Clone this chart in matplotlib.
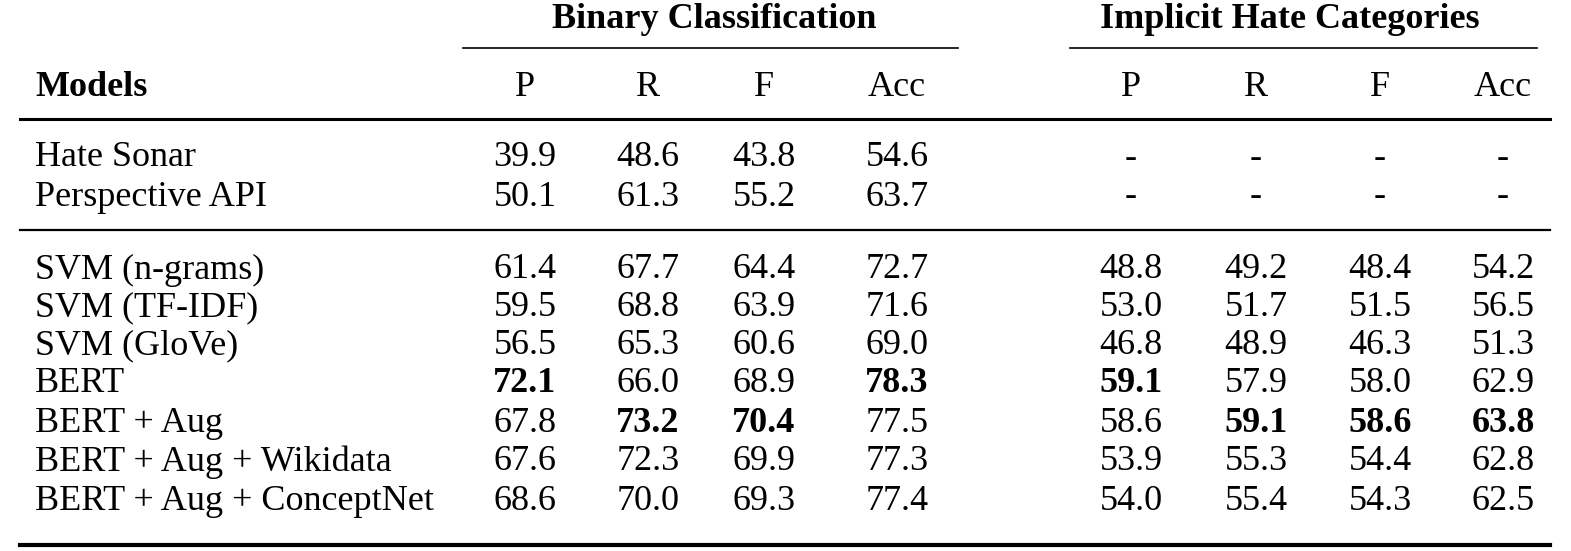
import matplotlib
matplotlib.use("Agg")
import matplotlib.pyplot as plt

models = ["Hate Sonar", "Perspective API", "SVM (n-grams)", "SVM (TF-IDF)", "SVM (GloVe)",
          "BERT", "BERT + Aug", "BERT + Aug + Wikidata", "BERT + Aug + ConceptNet"]
metrics = ["P", "R", "F", "Acc"]
binary = [["39.9", "48.6", "43.8", "54.6"], ["50.1", "61.3", "55.2", "63.7"],
          ["61.4", "67.7", "64.4", "72.7"], ["59.5", "68.8", "63.9", "71.6"],
          ["56.5", "65.3", "60.6", "69.0"], ["72.1", "66.0", "68.9", "78.3"],
          ["67.8", "73.2", "70.4", "77.5"], ["67.6", "72.3", "69.9", "77.3"],
          ["68.6", "70.0", "69.3", "77.4"]]
implicit = [["-", "-", "-", "-"], ["-", "-", "-", "-"],
            ["48.8", "49.2", "48.4", "54.2"], ["53.0", "51.7", "51.5", "56.5"],
            ["46.8", "48.9", "46.3", "51.3"], ["59.1", "57.9", "58.0", "62.9"],
            ["58.6", "59.1", "58.6", "63.8"], ["53.9", "55.3", "54.4", "62.8"],
            ["54.0", "55.4", "54.3", "62.5"]]
bold_binary = {(5, 0), (5, 3), (6, 1), (6, 2)}
bold_implicit = {(5, 0), (6, 1), (6, 2), (6, 3)}

plt.rcParams['font.family'] = ['Liberation Serif', 'DejaVu Serif']
fig = plt.figure(figsize=(15.71, 5.51), dpi=100)
ax = fig.add_axes([0, 0, 1, 1])
ax.set_xlim(0, 1571); ax.set_ylim(551, 0); ax.axis('off')
fs = 26
dy = 3

ax.text(714, 16 + dy, "Binary Classification", ha='center', va='center', fontsize=fs, fontweight='bold')
ax.text(1290, 16 + dy, "Implicit Hate Categories", ha='center', va='center', fontsize=fs, fontweight='bold')
ax.plot([463, 958], [48, 48], color='black', lw=1.2)
ax.plot([1070, 1537], [48, 48], color='black', lw=1.2)
ax.text(35, 84 + dy, "Models", ha='left', va='center', fontsize=fs, fontweight='bold')
bx = [525, 648, 764, 897]
ix = [1131, 1256, 1380, 1503]
for m, x in zip(metrics, bx):
    ax.text(x, 84 + dy, m, ha='center', va='center', fontsize=fs)
for m, x in zip(metrics, ix):
    ax.text(x, 84 + dy, m, ha='center', va='center', fontsize=fs)
ax.plot([20, 1550], [119, 119], color='black', lw=2.2)
ax.plot([20, 1550], [230, 230], color='black', lw=1.6)
ax.plot([20, 1550], [545, 545], color='black', lw=3)

ys = [155, 194, 267, 305, 343, 381, 420, 459, 498]
for i, (name, y) in enumerate(zip(models, ys)):
    ax.text(35, y + dy, name, ha='left', va='center', fontsize=fs)
    for j in range(4):
        ax.text(bx[j], y + dy, binary[i][j], ha='center', va='center', fontsize=fs,
                fontweight='bold' if (i, j) in bold_binary else 'normal')
        ax.text(ix[j], y + dy, implicit[i][j], ha='center', va='center', fontsize=fs,
                fontweight='bold' if (i, j) in bold_implicit else 'normal')

fig.savefig("out.png", dpi=100)
